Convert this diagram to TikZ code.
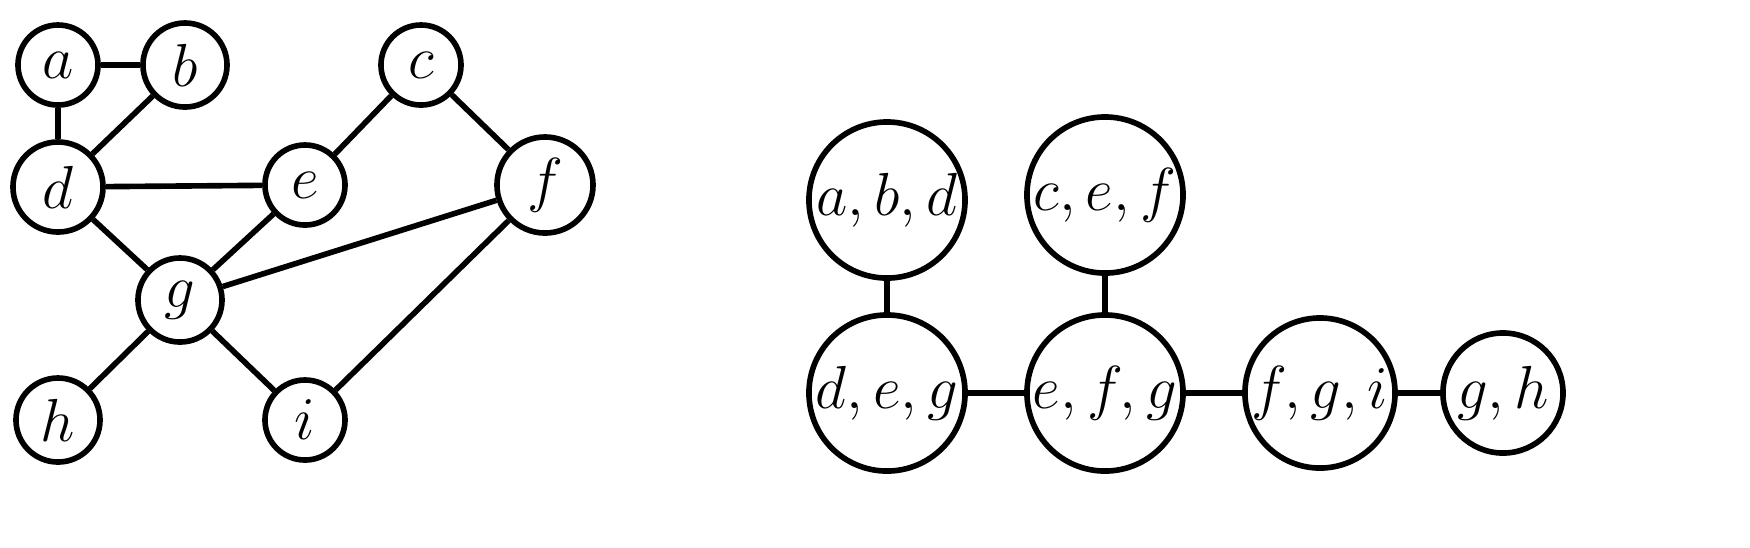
\documentclass[tikz,border=0pt]{standalone}
\begin{document}
\begin{tikzpicture}[x=0.01cm,y=-0.01cm,
  vtx/.style={circle,draw,line width=1.6pt,inner sep=0pt,font=\fontsize{19}{22}\selectfont},
  bag/.style={vtx,font=\fontsize{16}{19}\selectfont},
  edge/.style={line width=1.6pt}]
\useasboundingbox (0,0) rectangle (1750,547);
\node[vtx,minimum size=0.8cm] (a) at (58,65) {$a$};
\node[vtx,minimum size=0.84cm] (b) at (185,65) {$b$};
\node[vtx,minimum size=0.8cm] (c) at (421,65) {$c$};
\node[vtx,minimum size=0.9cm] (d) at (58,187) {$d$};
\node[vtx,minimum size=0.8cm] (e) at (305,185) {$e$};
\node[vtx,minimum size=0.96cm] (f) at (545,185) {$f$};
\node[vtx,minimum size=0.84cm] (g) at (180,300) {$g$};
\node[vtx,minimum size=0.84cm] (h) at (58,420) {$h$};
\node[vtx,minimum size=0.8cm] (i) at (305,420) {$i$};
\draw[edge] (a)--(b) (a)--(d) (b)--(d) (d)--(e) (c)--(e) (c)--(f) (d)--(g) (e)--(g) (g)--(f) (g)--(h) (g)--(i) (i)--(f);
\node[bag,minimum size=1.56cm] (abd) at (887,200) {$a,b,d$};
\node[bag,minimum size=1.56cm] (cef) at (1105,195) {$c,e,f$};
\node[bag,minimum size=1.56cm] (deg) at (887,393) {$d,e,g$};
\node[bag,minimum size=1.56cm] (efg) at (1105,393) {$e,f,g$};
\node[bag,minimum size=1.5cm] (fgi) at (1320,393) {$f,g,i$};
\node[bag,minimum size=1.2cm] (gh) at (1503,393) {$g,h$};
\draw[edge] (abd)--(deg) (cef)--(efg) (deg)--(efg) (efg)--(fgi) (fgi)--(gh);
\end{tikzpicture}
\end{document}
